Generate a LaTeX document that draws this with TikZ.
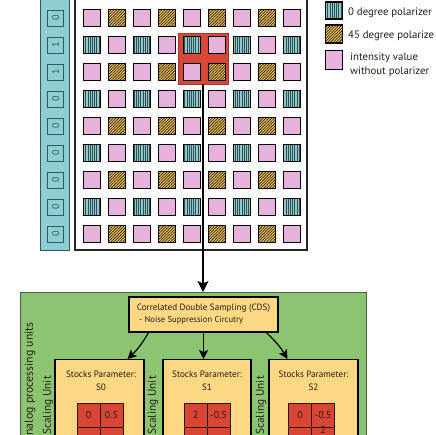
\documentclass[tikz,border=0pt]{standalone}
\usepackage{fontspec}
\setmainfont{PT Sans}
\usepackage{xcolor}
\definecolor{pixel_pink}{RGB}{230,178,220}
\definecolor{pixel_teal}{RGB}{150,198,198}
\definecolor{stripe_teal}{RGB}{36,82,86}
\definecolor{pixel_gold}{RGB}{232,194,96}
\definecolor{stripe_gold}{RGB}{64,46,20}
\definecolor{column_teal}{RGB}{142,206,210}
\definecolor{edge_teal}{RGB}{50,88,92}
\definecolor{roi_red}{RGB}{216,72,56}
\definecolor{unit_green}{RGB}{140,196,114}
\definecolor{edge_green}{RGB}{78,96,68}
\definecolor{box_yellow}{RGB}{252,215,132}
\definecolor{cell_red}{RGB}{217,70,54}
\definecolor{text_dark}{RGB}{40,28,22}
\usepackage{tikz}
\usetikzlibrary{patterns.meta,arrows.meta}
\tikzset{
  px/.style={draw=black, line width=1.3pt, minimum size=16.5pt, inner sep=0pt},
  px_pink/.style={px, fill=pixel_pink},
  px_teal/.style={px, preaction={fill=pixel_teal}, pattern={Lines[angle=90,distance=2.2pt,line width=0.9pt]}, pattern color=stripe_teal},
  px_gold/.style={px, preaction={fill=pixel_gold}, pattern={Lines[angle=45,distance=2pt,line width=0.75pt]}, pattern color=stripe_gold},
  bit/.style={draw=edge_teal, line width=0.9pt, fill=column_teal, minimum size=16pt, inner sep=0pt, rotate=90, text=edge_teal, font=\fontsize{10}{10}\selectfont},
  yellow_box/.style={draw=black, line width=1.4pt, fill=box_yellow, inner sep=0pt},
  cell/.style={draw=text_dark, line width=1pt, fill=cell_red, minimum width=23pt, minimum height=24pt, inner sep=0pt, text=text_dark, font=\fontsize{10}{10}\selectfont},
  side_label/.style={rotate=90, inner sep=0pt, text=text_dark, font=\fontsize{11.3}{11.3}\selectfont},
  title/.style={align=center, text=text_dark, font=\fontsize{9.2}{13}\selectfont},
  key_text/.style={anchor=west, align=left, inner sep=0pt, text=text_dark, font=\fontsize{10.8}{14}\selectfont},
  arrow/.style={line width=1.3pt, -{Stealth[length=11pt,width=11pt,inset=2.5pt]}},
  small_arrow/.style={line width=1.2pt, -{Stealth[length=9pt,width=9pt,inset=2pt]}}
}
\begin{document}
\begin{tikzpicture}[x=1pt, y=-1pt]
\useasboundingbox (0,0) rectangle (435,435);
\clip (0,0) rectangle (435,435);

\draw [fill=column_teal, draw=edge_teal, line width=0.8pt] (40,-10) rectangle (69,250);
\foreach \y/\b in {18/0,45/1,72/1,99/0,126/0,153/0,180/0,207/0,234/0}
  \node [bit] (bit-\y) at (55.5,\y) {\b};

\draw [line width=1.5pt, draw=black!85] (75,-10) -- (75,250) -- (307,250) -- (307,-10);
\node [fill=roi_red, draw=roi_red!75!black, line width=0.6pt, minimum width=50pt, minimum height=51pt] (roi) at (203,58.5) {};

\foreach \y in {18,72,126,180,234} {
  \foreach \x in {92,142,192,242,292} \node [px_pink] (pix-\x-\y) at (\x,\y) {};
  \foreach \x in {117,167,217,267} \node [px_gold] (pix-\x-\y) at (\x,\y) {};
}
\foreach \y in {-9,45,99,153,207} {
  \foreach \x in {92,142,192,242,292} \node [px_teal] (pix-\x-\y) at (\x,\y) {};
  \foreach \x in {117,167,217,267} \node [px_pink] (pix-\x-\y) at (\x,\y) {};
}

\node [px_teal, minimum height=17pt] (key_teal) at (334,10.5) {};
\node [px_gold, minimum height=18pt] (key_gold) at (334,34) {};
\node [px_pink, minimum height=19pt] (key_pink) at (334,60) {};
\node [key_text] (key_teal_text) at (348,12.5) {0 degree polarizer};
\node [key_text] (key_gold_text) at (348,35.5) {45 degree polarize};
\node [key_text] (key_pink_text) at (350,64.5) {intensity value\\without polarizer};

\node [fill=unit_green, draw=edge_green, line width=0.9pt, anchor=north west, minimum width=346pt, minimum height=170pt] (apu) at (20,292) {};
\draw [arrow] (roi.south) -- (roi.south |- apu.north);

\node [yellow_box, minimum width=149pt, minimum height=35pt, align=left, text=text_dark, font=\fontsize{9.1}{12}\selectfont] (cds) at (203.5,314.5)
  {Correlated Double Sampling (CDS)\\\fontsize{8.6}{12}\selectfont\ - Noise Suppression Circutry};

\node [yellow_box, anchor=north, minimum width=89pt, minimum height=100pt] (s0) at (99.5,359) {};
\node [yellow_box, anchor=north, minimum width=88pt, minimum height=100pt] (s1) at (207,359) {};
\node [yellow_box, anchor=north, minimum width=89pt, minimum height=100pt] (s2) at (313.5,359) {};
\draw [small_arrow] ([xshift=-55pt]cds.south) to [bend left=8] ([xshift=28pt]s0.north);
\draw [small_arrow] (cds.south) -- (cds.south |- s1.north);
\draw [small_arrow] ([xshift=63pt]cds.south) to [bend left=8] ([xshift=-26pt]s2.north);

\node [title] (s0_title) at (101,380.5) {Stocks Parameter:\\S0};
\node [title] (s1_title) at (207,380.5) {Stocks Parameter:\\S1};
\node [title] (s2_title) at (313.5,380.5) {Stocks Parameter:\\S2};

\node [cell] (s0_a) at (88.5,415) {0};
\node [cell] (s0_b) at (111.5,415) {0.5};
\node [cell] (s0_c) at (88.5,439) {};
\node [cell] (s0_d) at (111.5,439) {};
\node [cell] (s1_a) at (195.5,415) {2};
\node [cell] (s1_b) at (218.5,415) {-0.5};
\node [cell] (s1_c) at (195.5,439) {};
\node [cell] (s1_d) at (218.5,439) {};
\node [cell] (s2_a) at (300,415) {0};
\node [cell] (s2_b) at (323,415) {-0.5};
\node [cell] (s2_c) at (300,439) {};
\node [cell] (s2_d) at (323,439) {};
\node [text=text_dark, font=\fontsize{10}{10}\selectfont, inner sep=0pt] (s2_d_value) at (323,429.5) {2};

\node [side_label] (su0) at (48,405.5) {Scaling Unit};
\node [side_label] (su1) at (153,405.5) {Scaling Unit};
\node [side_label] (su2) at (261,405.5) {Scaling Unit};
\node [side_label, anchor=east, font=\fontsize{11.8}{11.8}\selectfont] (apu_label) at (30,322) {nalog processing units};
\end{tikzpicture}
\end{document}
